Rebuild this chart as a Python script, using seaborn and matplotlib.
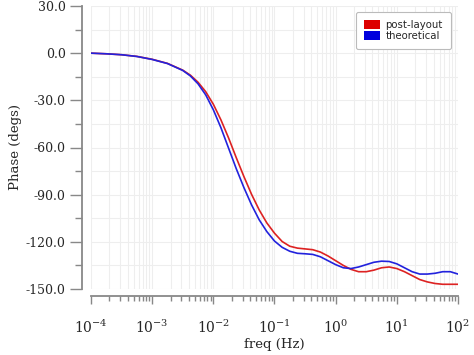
import numpy as np
import pandas as pd
import matplotlib
matplotlib.use("Agg")
import matplotlib.pyplot as plt
import seaborn as sns
from matplotlib.patches import Patch
from matplotlib.ticker import MultipleLocator, FormatStrFormatter, LogLocator, LogFormatterSciNotation, NullFormatter

# log10 of frequency (Hz)
log_freq = [-4.0, -3.75, -3.5, -3.25, -3.0, -2.75, -2.5, -2.375, -2.25, -2.125,
            -2.0, -1.875, -1.75, -1.625, -1.5, -1.375, -1.25, -1.125, -1.0, -0.875,
            -0.75, -0.625, -0.5, -0.375, -0.25, -0.125, 0.0, 0.125, 0.25, 0.375,
            0.5, 0.625, 0.75, 0.875, 1.0, 1.125, 1.25, 1.375, 1.5, 1.625,
            1.75, 1.875, 2.0]

post_layout = [0.0, -0.4, -1.0, -2.05, -3.9, -6.5, -10.8, -14.0, -18.5, -24.5,
               -32.5, -42.5, -54.0, -66.5, -78.5, -89.8, -99.7, -108.0, -114.5, -119.8,
               -122.8, -124.0, -124.5, -125.0, -126.5, -129.0, -132.0, -135.0, -137.5, -139.0,
               -139.0, -138.0, -136.5, -136.0, -137.0, -139.0, -141.5, -144.0, -145.5, -146.5,
               -147.0, -147.0, -147.0]

theoretical = [0.0, -0.4, -1.0, -2.1, -4.0, -6.6, -11.0, -14.5, -19.5, -26.5,
               -36.0, -47.5, -60.5, -73.5, -85.5, -96.5, -106.0, -113.5, -119.5, -123.5,
               -126.0, -127.3, -127.6, -128.0, -129.5, -132.0, -134.5, -136.5, -137.0, -136.0,
               -134.5, -133.0, -132.3, -132.5, -134.0, -136.5, -139.0, -140.5, -140.5, -140.0,
               -139.0, -139.0, -140.5]

series_names = ["post-layout", "theoretical"]
series_colors = ["#dd2222", "#2222dd"]
legend_colors = ["#dd0000", "#0000dd"]

y_ticks = [30.0, 0.0, -30.0, -60.0, -90.0, -120.0, -150.0]

freq = 10 ** np.array(log_freq)
df = pd.DataFrame({
    "freq": np.concatenate([freq, freq]),
    "phase": post_layout + theoretical,
    "series": [series_names[0]] * len(freq) + [series_names[1]] * len(freq),
})

sns.set_theme(style="white")
plt.rcParams["font.family"] = ["DejaVu Serif"]
plt.rcParams["mathtext.fontset"] = "dejavuserif"

W, H = 474, 355
fig = plt.figure(figsize=(W / 100, H / 100), dpi=100)
left, right, top, bottom = 91, 458, 6, 289
ax = fig.add_axes([left / W, 1 - bottom / H, (right - left) / W, (bottom - top) / H])

sns.lineplot(data=df, x="freq", y="phase", hue="series", hue_order=series_names,
             palette=dict(zip(series_names, series_colors)), ax=ax,
             linewidth=1.2, legend=False)

ax.set_xscale("log")
ax.set_xlim(1e-4, 1e2)
ax.set_ylim(min(y_ticks), max(y_ticks))

ax.yaxis.set_major_locator(MultipleLocator(30))
ax.yaxis.set_minor_locator(MultipleLocator(15))
ax.yaxis.set_major_formatter(FormatStrFormatter("%.1f"))
ax.xaxis.set_major_locator(LogLocator(base=10, numticks=20))
ax.xaxis.set_minor_locator(LogLocator(base=10, subs=np.arange(2, 10), numticks=20))
ax.xaxis.set_major_formatter(LogFormatterSciNotation())
ax.xaxis.set_minor_formatter(NullFormatter())

ax.grid(True, which="both", color="#eeeeee", linewidth=0.8)
ax.set_axisbelow(True)

for s in ["top", "right"]:
    ax.spines[s].set_visible(False)
ax.spines["left"].set_position(("outward", 6.5))
ax.spines["bottom"].set_position(("outward", 5))
for s in ["left", "bottom"]:
    ax.spines[s].set_color("#888888")
    ax.spines[s].set_linewidth(1.3)

ax.tick_params(axis="y", which="major", direction="out", length=8.6, width=1.0,
               color="#888888", pad=3, labelsize=9, left=True)
ax.tick_params(axis="y", which="minor", direction="out", length=5, width=1.0,
               color="#888888", left=True)
ax.tick_params(axis="x", which="major", direction="out", length=5.5, width=1.0,
               color="#888888", pad=11, labelsize=10, bottom=True)
ax.tick_params(axis="x", which="minor", direction="out", length=3.8, width=1.0,
               color="#888888", bottom=True)

ax.set_xlabel("freq (Hz)", fontsize=9.5, labelpad=1)
ax.set_ylabel("Phase (degs)", fontsize=9.5, labelpad=3)

handles = [Patch(facecolor=c, edgecolor="none") for c in legend_colors]
leg = ax.legend(handles, series_names, loc="upper right",
                bbox_to_anchor=((451 - left) / (right - left), 1 - (12 - top) / (bottom - top)),
                borderaxespad=0, prop={"family": "DejaVu Sans", "size": 7.3},
                handlelength=1.6, handleheight=1.0, labelspacing=0.05,
                handletextpad=0.5, borderpad=0.8, fancybox=True, framealpha=1,
                edgecolor="#bbbbbb")
leg.get_frame().set_linewidth(0.8)

fig.savefig("out.png", dpi=100)
